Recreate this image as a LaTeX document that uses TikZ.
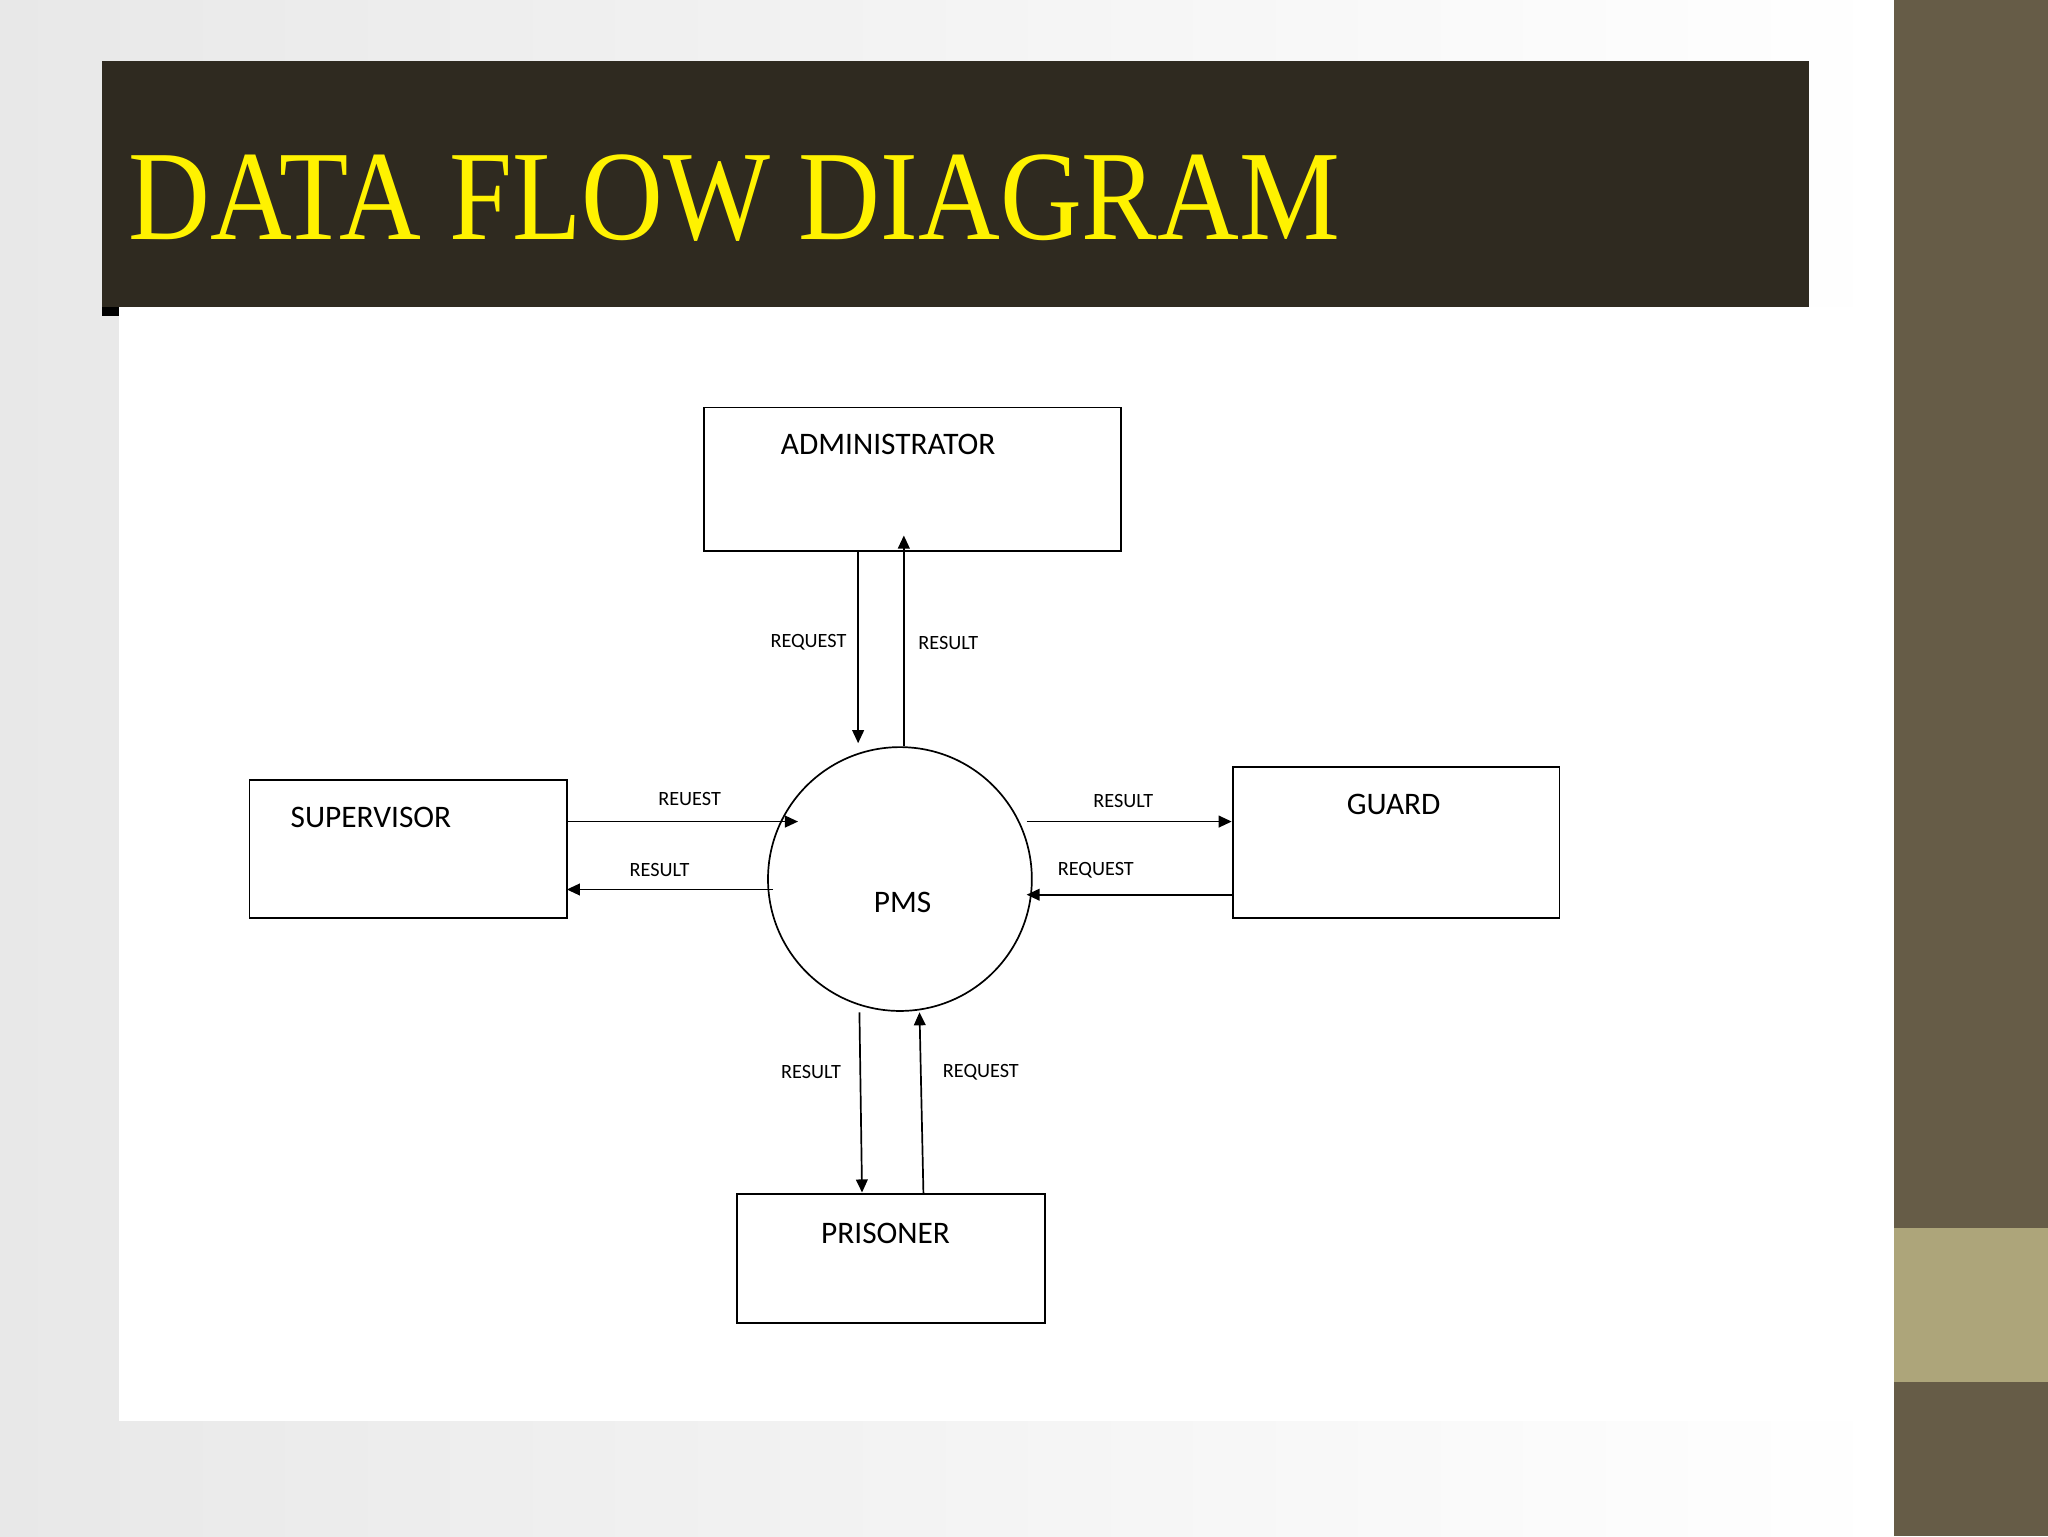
\documentclass[tikz,border=0pt]{standalone}
\usepackage{fontspec}
\setmainfont{Liberation Serif}
\newfontfamily\calib{Carlito}
\usetikzlibrary{arrows.meta}
\definecolor{olive}{HTML}{665C47}
\definecolor{lolive}{HTML}{ADA57A}
\definecolor{titlebg}{HTML}{2F2A20}
\begin{document}
\begin{tikzpicture}[x=1pt,y=-1pt,
  ent/.style={draw,line width=1.3pt,inner sep=0},
  lab/.style={font=\calib\fontsize{24}{26}\selectfont,anchor=center},
  flow/.style={font=\calib\fontsize{15.5}{17}\selectfont,anchor=center},
  arr/.style={-{Triangle[length=10pt,width=9pt]},line width=1.3pt}]
\useasboundingbox (0,0) rectangle (1568,1176);
\shade[left color=gray!18,right color=white] (0,0) rectangle (1450,1176);
\fill[olive] (1450,0) rectangle (1568,1176);
\fill[lolive] (1450,940) rectangle (1568,1058);
\fill[white] (91,235) rectangle (1424,1088);
\fill[titlebg] (78,47) rectangle (1385,235);
\fill[black] (78,235) rectangle (91,242);
\node[anchor=base west,text=yellow,font=\fontsize{98}{100}\selectfont,inner sep=0] (title) at (98,183) {\scalebox{0.885}[1]{DATA FLOW DIAGRAM}};
% entities
\draw[ent] (539,312) rectangle (858,422);
\node[lab] (admin) at (680,340) {ADMINISTRATOR};
\draw[ent] (191,597) rectangle (434,703);
\node[lab] (sup) at (284,626) {SUPERVISOR};
\draw[ent] (944,587) rectangle (1194,703);
\node[lab] (guard) at (1067,616) {GUARD};
\draw[ent] (564,914) rectangle (800,1013);
\node[lab] (pris) at (678,944) {PRISONER};
\node[draw,circle,line width=1.3pt,minimum size=202pt,inner sep=0] (pms) at (689,673) {};
\node[lab] (pmst) at (691,691) {PMS};
% coordinates
\coordinate (a1) at (657,422); \coordinate (a2) at (657,569);
\coordinate (a3) at (692,571); \coordinate (a4) at (692,410);
\coordinate (s1) at (434,629); \coordinate (s2) at (611,629);
\coordinate (s3) at (592,681); \coordinate (s4) at (434,681);
\coordinate (g1) at (786,629); \coordinate (g2) at (943,629);
\coordinate (g3) at (944,685); \coordinate (g4) at (786,685);
\coordinate (p1) at (658,775); \coordinate (p2) at (660,913);
\coordinate (p3) at (707,914); \coordinate (p4) at (704,775);
\draw[arr] (a1) -- (a2); \draw[arr] (a3) -- (a4);
\draw[arr] (s1) -- (s2); \draw[arr] (s3) -- (s4);
\draw[arr] (g1) -- (g2); \draw[arr] (g3) -- (g4);
\draw[arr] (p1) -- (p2); \draw[arr] (p3) -- (p4);
\node[flow] (l1) at (619,492) {REQUEST};
\node[flow] (l2) at (726,492) {RESULT};
\node[flow] (l3) at (528,612) {REUEST};
\node[flow] (l4) at (505,666) {RESULT};
\node[flow] (l5) at (860,613) {RESULT};
\node[flow] (l6) at (839,666) {REQUEST};
\node[flow] (l7) at (621,821) {RESULT};
\node[flow] (l8) at (751,821) {REQUEST};
\end{tikzpicture}
\end{document}
